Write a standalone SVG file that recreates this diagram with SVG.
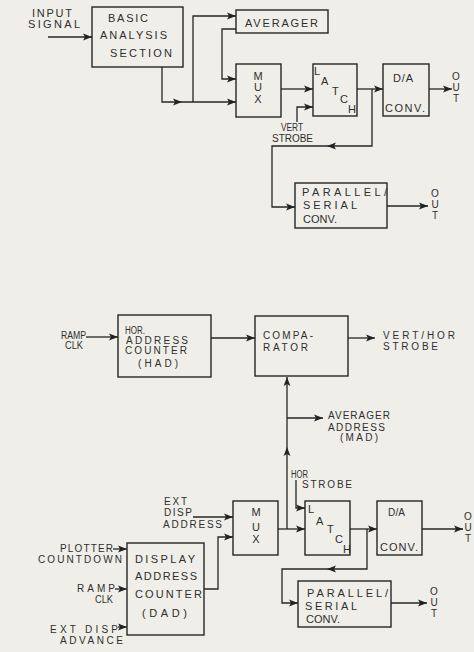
<svg xmlns="http://www.w3.org/2000/svg" width="474" height="652" viewBox="0 0 474 652">
<defs>
<style>
.bg{fill:#efeee8}
.box{fill:none;stroke:#262626;stroke-width:1.4}
.ln{fill:none;stroke:#262626;stroke-width:1.3}
.t{font-family:"Liberation Sans",Arial,sans-serif;font-size:11px;fill:#2e2e2e}
.m{font-size:10px}
.o{font-family:"Liberation Sans",Arial,sans-serif;font-size:10px;fill:#2e2e2e;text-anchor:middle}
</style>
<marker id="a" markerWidth="10" markerHeight="8" refX="9" refY="4" orient="auto" markerUnits="userSpaceOnUse">
<path d="M0,0.6 L9,4 L0,7.4 L2,4 z" fill="#222"/>
</marker>
</defs>
<rect class="bg" x="0" y="0" width="474" height="652"/>

<g id="connectors">
<!-- top section -->
<path class="ln" d="M48,37 H92" marker-end="url(#a)"/>
<path class="ln" d="M162,67 V102 H182" marker-end="url(#a)"/>
<path class="ln" d="M182,102 H236" marker-end="url(#a)"/>
<path class="ln" d="M193,102 V16 H236" marker-end="url(#a)"/>
<path class="ln" d="M236,29 H222 V79 H236" marker-end="url(#a)"/>
<path class="ln" d="M281,89 H313" marker-end="url(#a)"/>
<path class="ln" d="M297,122 V107 H313" marker-end="url(#a)"/>
<path class="ln" d="M357,89 H383" marker-end="url(#a)"/>
<path class="ln" d="M372,89 V146 H327" marker-end="url(#a)"/>
<path class="ln" d="M327,146 H272 V207 H295" marker-end="url(#a)"/>
<path class="ln" d="M429,89 H452" marker-end="url(#a)"/>
<path class="ln" d="M387,206 H428" marker-end="url(#a)"/>
<!-- bottom section -->
<path class="ln" d="M86,337 H118" marker-end="url(#a)"/>
<path class="ln" d="M211,338 H255" marker-end="url(#a)"/>
<path class="ln" d="M348,338 H375" marker-end="url(#a)"/>
<path class="ln" d="M287,529 V447" marker-end="url(#a)"/>
<path class="ln" d="M287,447 V377" marker-end="url(#a)"/>
<path class="ln" d="M287,418 H323" marker-end="url(#a)"/>
<path class="ln" d="M296,480 V508 H305" marker-end="url(#a)"/>
<path class="ln" d="M278,529 H305" marker-end="url(#a)"/>
<path class="ln" d="M193,517 H233" marker-end="url(#a)"/>
<path class="ln" d="M204,589 H218 V537 H233" marker-end="url(#a)"/>
<path class="ln" d="M350,529 H377" marker-end="url(#a)"/>
<path class="ln" d="M422,529 H463" marker-end="url(#a)"/>
<path class="ln" d="M367,529 V569 H327" marker-end="url(#a)"/>
<path class="ln" d="M327,569 H282 V603 H298" marker-end="url(#a)"/>
<path class="ln" d="M391,603 H427" marker-end="url(#a)"/>
<path class="ln" d="M113,549 H127" marker-end="url(#a)"/>
<path class="ln" d="M115,589 H127" marker-end="url(#a)"/>
<path class="ln" d="M118,627 H127" marker-end="url(#a)"/>
</g>

<!-- top section -->
<g id="lbl-input">
<text class="t" x="32" y="17" textLength="40" lengthAdjust="spacing">INPUT</text>
<text class="t" x="28" y="28" textLength="52" lengthAdjust="spacing">SIGNAL</text>
</g>
<g id="n-basic">
<rect class="box" x="92" y="7" width="91" height="60"/>
<text class="t" x="108" y="22" textLength="40" lengthAdjust="spacing">BASIC</text>
<text class="t" x="100" y="39" textLength="67" lengthAdjust="spacing">ANALYSIS</text>
<text class="t" x="110" y="57" textLength="62" lengthAdjust="spacing">SECTION</text>
</g>
<g id="n-averager">
<rect class="box" x="236" y="10" width="92" height="23"/>
<text class="t" x="245" y="27" textLength="73" lengthAdjust="spacing">AVERAGER</text>
</g>
<g id="n-mux1">
<rect class="box" x="236" y="64" width="45" height="53"/>
<text class="t" x="258" y="80" text-anchor="middle">M</text>
<text class="t" x="258" y="91" text-anchor="middle">U</text>
<text class="t" x="258" y="103" text-anchor="middle">X</text>
</g>
<g id="n-latch1">
<rect class="box" x="313" y="64" width="44" height="52"/>
<text class="t" x="314" y="75">L</text>
<text class="t" x="321" y="85">A</text>
<text class="t" x="332" y="95">T</text>
<text class="t" x="340" y="103">C</text>
<text class="t" x="348" y="113">H</text>
</g>
<g id="n-da1">
<rect class="box" x="383" y="64" width="46" height="52"/>
<text class="t" x="393" y="82" textLength="20" lengthAdjust="spacing">D/A</text>
<text class="t" x="385" y="112" textLength="40" lengthAdjust="spacing">CONV.</text>
</g>
<g id="lbl-out1">
<text class="o" x="456" y="80">O</text>
<text class="o" x="456" y="91">U</text>
<text class="o" x="456" y="102">T</text>
</g>
<g id="lbl-vert">
<text class="t m" x="281" y="131" textLength="22" lengthAdjust="spacingAndGlyphs">VERT</text>
<text class="t m" x="272" y="142" textLength="41" lengthAdjust="spacing">STROBE</text>
</g>
<g id="n-ps1">
<rect class="box" x="295" y="183" width="92" height="45"/>
<text class="t" x="302" y="196" textLength="85" lengthAdjust="spacing">PARALLEL/</text>
<text class="t" x="303" y="209" textLength="54" lengthAdjust="spacing">SERIAL</text>
<text class="t" x="303" y="223" textLength="34" lengthAdjust="spacing">CONV.</text>
</g>
<g id="lbl-out2">
<text class="o" x="435" y="197">O</text>
<text class="o" x="435" y="208">U</text>
<text class="o" x="435" y="219">T</text>
</g>

<!-- bottom section -->
<g id="lbl-ramp1">
<text class="t m" x="61" y="339" textLength="25" lengthAdjust="spacingAndGlyphs">RAMP</text>
<text class="t m" x="65" y="349" textLength="18" lengthAdjust="spacingAndGlyphs">CLK</text>
</g>
<g id="n-had">
<rect class="box" x="118" y="315" width="93" height="62"/>
<text class="t m" x="125" y="334" textLength="20" lengthAdjust="spacingAndGlyphs">HOR.</text>
<text class="t m" x="126" y="344" textLength="62" lengthAdjust="spacing">ADDRESS</text>
<text class="t m" x="125" y="354" textLength="62" lengthAdjust="spacing">COUNTER</text>
<text class="t m" x="138" y="367" textLength="40" lengthAdjust="spacing">(HAD)</text>
</g>
<g id="n-comp">
<rect class="box" x="255" y="316" width="93" height="60"/>
<text class="t m" x="263" y="339" textLength="50" lengthAdjust="spacing">COMPA-</text>
<text class="t m" x="263" y="351" textLength="45" lengthAdjust="spacing">RATOR</text>
</g>
<g id="lbl-verthor">
<text class="t m" x="383" y="339" textLength="72" lengthAdjust="spacing">VERT/HOR</text>
<text class="t m" x="383" y="350" textLength="55" lengthAdjust="spacing">STROBE</text>
</g>
<g id="lbl-mad">
<text class="t m" x="328" y="419" textLength="62" lengthAdjust="spacing">AVERAGER</text>
<text class="t m" x="328" y="431" textLength="57" lengthAdjust="spacing">ADDRESS</text>
<text class="t m" x="340" y="441" textLength="38" lengthAdjust="spacing">(MAD)</text>
</g>
<g id="lbl-hor">
<text class="t m" x="291" y="478" textLength="17" lengthAdjust="spacingAndGlyphs">HOR</text>
<text class="t m" x="302" y="488" textLength="50" lengthAdjust="spacing">STROBE</text>
</g>
<g id="lbl-extaddr">
<text class="t m" x="164" y="505" textLength="23" lengthAdjust="spacing">EXT</text>
<text class="t m" x="164" y="516" textLength="28" lengthAdjust="spacing">DISP</text>
<text class="t m" x="163" y="528" textLength="59" lengthAdjust="spacing">ADDRESS</text>
</g>
<g id="n-mux2">
<rect class="box" x="233" y="501" width="45" height="54"/>
<text class="t" x="256" y="516" text-anchor="middle">M</text>
<text class="t" x="256" y="531" text-anchor="middle">U</text>
<text class="t" x="256" y="543" text-anchor="middle">X</text>
</g>
<g id="n-latch2">
<rect class="box" x="305" y="501" width="45" height="54"/>
<text class="t" x="308" y="513">L</text>
<text class="t" x="316" y="525">A</text>
<text class="t" x="327" y="533">T</text>
<text class="t" x="335" y="543">C</text>
<text class="t" x="343" y="553">H</text>
</g>
<g id="n-da2">
<rect class="box" x="377" y="501" width="45" height="54"/>
<text class="t m" x="388" y="516" textLength="17" lengthAdjust="spacing">D/A</text>
<text class="t" x="380" y="551" textLength="38" lengthAdjust="spacing">CONV.</text>
</g>
<g id="lbl-out3">
<text class="o" x="468" y="520">O</text>
<text class="o" x="468" y="531">U</text>
<text class="o" x="468" y="542">T</text>
</g>
<g id="n-ps2">
<rect class="box" x="298" y="581" width="93" height="46"/>
<text class="t" x="307" y="597" textLength="81" lengthAdjust="spacing">PARALLEL/</text>
<text class="t" x="305" y="610" textLength="52" lengthAdjust="spacing">SERIAL</text>
<text class="t" x="306" y="623" textLength="34" lengthAdjust="spacing">CONV.</text>
</g>
<g id="lbl-out4">
<text class="o" x="434" y="595">O</text>
<text class="o" x="434" y="606">U</text>
<text class="o" x="434" y="617">T</text>
</g>
<g id="n-dad">
<rect class="box" x="127" y="543" width="77" height="92"/>
<text class="t" x="135" y="563" textLength="60" lengthAdjust="spacing">DISPLAY</text>
<text class="t" x="135" y="580" textLength="62" lengthAdjust="spacing">ADDRESS</text>
<text class="t" x="135" y="598" textLength="67" lengthAdjust="spacing">COUNTER</text>
<text class="t" x="142" y="617" textLength="45" lengthAdjust="spacing">(DAD)</text>
</g>
<g id="lbl-dad-in">
<text class="t m" x="60" y="552" textLength="53" lengthAdjust="spacing">PLOTTER</text>
<text class="t m" x="38" y="563" textLength="84" lengthAdjust="spacing">COUNTDOWN</text>
<text class="t m" x="77" y="592" textLength="38" lengthAdjust="spacing">RAMP</text>
<text class="t m" x="95" y="603" textLength="18" lengthAdjust="spacingAndGlyphs">CLK</text>
<text class="t m" x="50" y="633" textLength="68" lengthAdjust="spacing">EXT DISP</text>
<text class="t m" x="60" y="644" textLength="63" lengthAdjust="spacing">ADVANCE</text>
</g>
</svg>
